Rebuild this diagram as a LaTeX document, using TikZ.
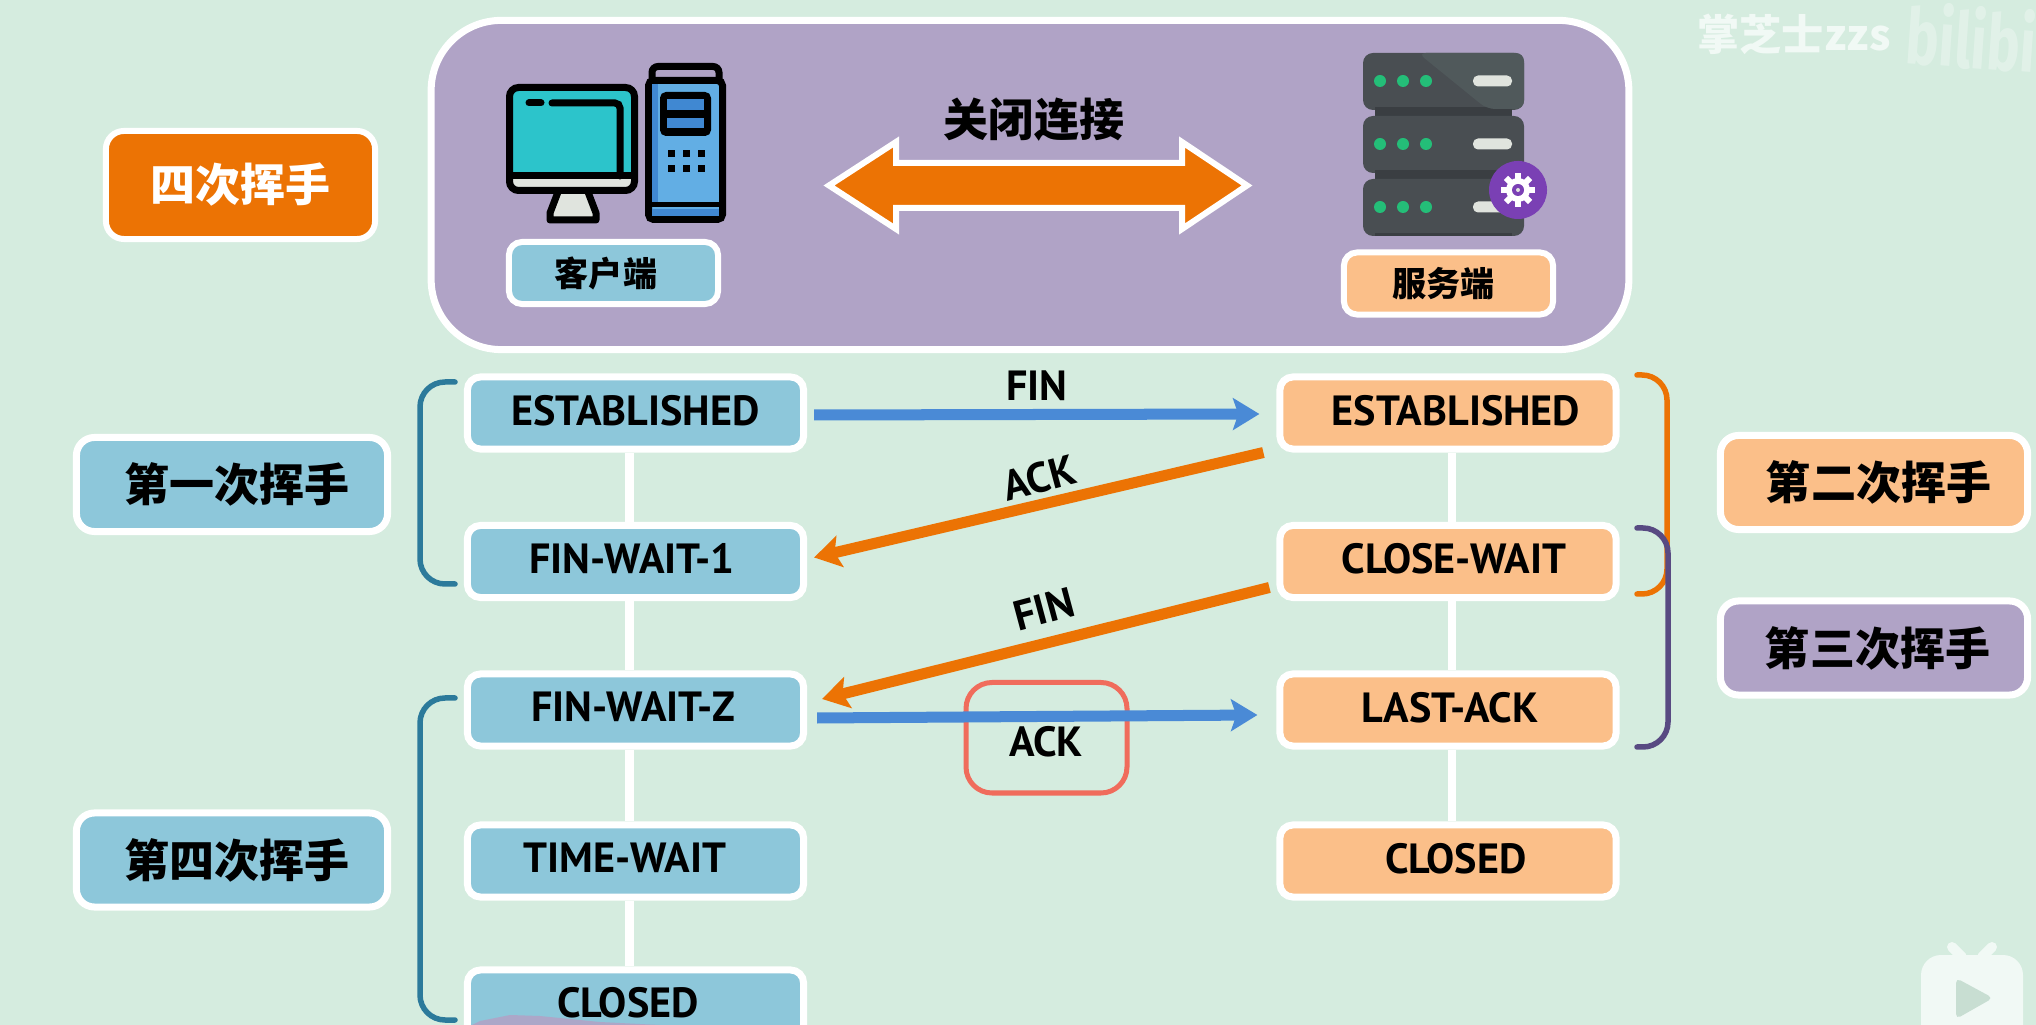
\documentclass[tikz,border=0pt]{standalone}
\usepackage{fontspec}
\setmainfont{PT Sans}
\newfontfamily\cjk{Noto Sans CJK SC}
\newfontfamily\markfont{Fira Sans}
\usetikzlibrary{arrows.meta}

\definecolor{paper}{RGB}{213,236,223}
\definecolor{clientblue}{RGB}{141,199,218}
\definecolor{serverorange}{RGB}{251,191,137}
\definecolor{lilac}{RGB}{176,163,198}
\definecolor{burnt}{RGB}{236,115,4}
\definecolor{arrowblue}{RGB}{74,138,214}
\definecolor{tealbar}{RGB}{44,122,155}
\definecolor{plum}{RGB}{88,74,130}
\definecolor{alarm}{RGB}{240,108,92}
\definecolor{rack}{RGB}{73,78,82}
\definecolor{rackhi}{RGB}{80,89,91}
\definecolor{rackdark}{RGB}{58,62,66}
\definecolor{led}{RGB}{36,190,120}
\definecolor{pill}{RGB}{224,228,222}
\definecolor{cog}{RGB}{122,64,180}
\definecolor{screen}{RGB}{44,196,203}
\definecolor{casing}{RGB}{98,174,228}
\definecolor{casingdark}{RGB}{64,136,210}
\definecolor{ghost}{RGB}{241,249,245}

\tikzset{
	box/.style={draw=white, rounded corners=0.13cm, inner sep=0pt, font=\bfseries},
	state/.style={box, line width=0.07cm, minimum width=3.36cm, minimum height=0.72cm, text depth=0.06cm, font=\fontsize{12}{13}\bfseries},
	wave/.style={box, line width=0.07cm, rounded corners=0.18cm, minimum height=0.94cm, font=\cjk\fontsize{12.8}{14}\bfseries},
	side/.style={box, line width=0.06cm, minimum width=2.09cm, minimum height=0.62cm, font=\cjk\fontsize{9.7}{11}\bfseries},
	flow/.style={line width=0.11cm, -{Stealth[length=7.5pt, width=9pt, inset=1.5pt]}},
	link/.style={white, line width=0.09cm},
	bracket/.style={line width=0.055cm, rounded corners=0.25cm, line cap=round},
	msg/.style={inner sep=0pt, font=\fontsize{12}{13}\bfseries}
}

\begin{document}
\begin{tikzpicture}[x=0.01cm, y=-0.01cm]
	\path [use as bounding box] (0,0) rectangle (2036,1025);
	\clip (0,0) rectangle (2036,1025);
	\fill [paper] (0,0) rectangle (2036,1025);
	
	\node [inner sep=0pt, text=ghost, font=\cjk\fontsize{12}{13}\bfseries] (author) at (1794,34) {掌芝士zzs};
	\node [inner sep=0pt, anchor=west, rotate=-4, xscale=0.72, text=ghost, opacity=0.45, font=\markfont\fontsize{22}{23}\bfseries] (site) at (1906,33) {bilibi};
	
	\node [box, fill=lilac, line width=0.07cm, rounded corners=0.7cm, minimum width=11.97cm, minimum height=3.29cm] (conn) at (1030,185) {};
	\node [wave, fill=burnt, text=white, line width=0.06cm, minimum width=2.69cm, minimum height=1.08cm] (title) at (240.5,185) {四次挥手};
	\node [inner sep=0pt, font=\cjk\fontsize{12.8}{14}\bfseries] (close) at (1034,120) {关闭连接};
	\node [side, fill=clientblue] (client) at (613.5,273) {\kern-0.15cm 客户端};
	\node [side, fill=serverorange] (server) at (1448.5,283.5) {\kern-0.1cm 服务端};
	
	\draw [white, fill=burnt, line width=0.06cm, miter limit=10] (829,185.5) -- (896,142) -- (896,163) -- (1182,163) -- (1182,142) -- (1247,185.5) -- (1182,229) -- (1182,208) -- (896,208) -- (896,229) -- cycle;
	
	\draw [line width=0.07cm, rounded corners=0.06cm] (652,80) -- (652,66.5) -- (719,66.5) -- (719,80);
	\draw [line width=0.07cm, fill=casing, rounded corners=0.05cm] (648.5,80.5) rectangle (722.5,219.5);
	\fill [casingdark] (652,84) rectangle (658,202);
	\fill [casingdark] (652,209) rectangle (719,216);
	\draw [line width=0.05cm] (648.5,205) -- (722.5,205);
	\draw [line width=0.07cm, fill=black, rounded corners=0.03cm] (663.5,95.5) rectangle (707.5,132.5);
	\fill [casingdark] (667,99) rectangle (704,110);
	\fill [casingdark] (667,118) rectangle (704,128);
	\foreach \i in {671,686,701}
	\foreach \j in {154,169}
	\fill (\i-3.5,\j-3.5) rectangle (\i+3.5,\j+3.5);
	
	\draw [line width=0.07cm, fill=pill, line join=round] (558,192) -- (550,213) -- (550,220) -- (596,220) -- (596,213) -- (588,192);
	\fill [screen, rounded corners=0.09cm] (509.5,87.5) rectangle (634.5,190.5);
	\fill [pill] (512,176) rectangle (632,188);
	\draw [line width=0.07cm] (509.5,176) -- (634.5,176);
	\draw [line width=0.07cm, rounded corners=0.09cm] (509.5,87.5) rectangle (634.5,190.5);
	\draw [line width=0.07cm, line cap=round] (529,103) -- (541,103);
	\draw [line width=0.07cm, line cap=round, rounded corners=0.05cm] (552,103) -- (620,103) -- (620,176);
	
	\fill [rackdark] (1375,105) rectangle (1512,185);
	\foreach \y in {53,116,179} {
		\fill [rack, rounded corners=0.1cm] (1363,\y) rectangle (1524,\y+57);
		\fill [rackdark] (1375,\y+54) rectangle (1512,\y+57);
	}
	\fill [rackhi, rounded corners=0.08cm] (1418,53) -- (1524,53) -- (1524,109) -- (1487,109) -- cycle;
	\foreach \y in {81,144,207} {
		\foreach \x in {1380,1403,1426}
		\fill [led] (\x,\y) circle (0.06cm);
		\fill [pill, rounded corners=0.05cm] (1473,\y-5.5) rectangle (1512,\y+5.5);
	}
	\fill [cog] (1518,190) circle (0.29cm);
	\foreach \a in {0,45,...,315}
	\draw [white, line width=0.06cm] (1518,190) -- ++(\a:17);
	\fill [white] (1518,190) circle (0.12cm);
	\fill [cog] (1518,190) circle (0.06cm);
	\fill [pill] (1518,190) circle (0.02cm);
	
	\foreach \m/\l/\y/\d in {1/ESTABLISHED/413/0, 2/FIN-WAIT-1/561.5/-0.07, 3/FIN-WAIT-Z/710/-0.05, 4/TIME-WAIT/861/-0.21}
	\node [state, fill=clientblue] (client-\m) at (635.5,\y) {\kern\d cm\l};
	\node [state, fill=clientblue] (client-5) at (635.5,1006) {};
	
	\foreach \m/\l/\y/\d in {1/ESTABLISHED/413/0.16, 2/CLOSE-WAIT/561.5/0.12, 3/LAST-ACK/710/0.04, 4/CLOSED/861/0.16}
	\node [state, fill=serverorange] (server-\m) at (1448,\y) {\kern\d cm\l};
	
	\fill [lilac!90!clientblue] (472,1025) -- (480,1021) -- (510,1015) -- (540,1016) -- (570,1019) -- (600,1022) -- (660,1025) -- cycle;
	\node [msg] (closed) at (628,1003) {CLOSED};
	
	\foreach \i [count=\j from 2] in {1,...,4}
	\draw [link] ([shift={(-6.5,0)}]client-\i.south) -- ([shift={(-6.5,0)}]client-\j.north);
	
	\foreach \i [count=\j from 2] in {1,...,3}
	\draw [link, line width=0.08cm] ([shift={(4,0)}]server-\i.south) -- ([shift={(4,0)}]server-\j.north);
	
	\node [wave, fill=clientblue, minimum width=3.11cm] (first) at (232,484.5) {\kern0.1cm 第一次挥手};
	\node [wave, fill=clientblue, minimum width=3.11cm] (fourth) at (232,860) {\kern0.1cm 第四次挥手};
	\node [wave, fill=serverorange, minimum width=3.07cm] (second) at (1874,482.5) {\kern0.09cm 第二次挥手};
	\node [wave, fill=lilac, minimum width=3.07cm] (third) at (1874,648) {\kern0.07cm 第三次挥手};
	
	\draw [bracket, tealbar] (455,382) -- (420,382) -- (420,584) -- (455,584);
	\draw [bracket, tealbar] (455,698) -- (420,698) -- (420,1020) -- (455,1020);
	\draw [bracket, burnt] (1637,375) -- (1667,375) -- (1667,594) -- (1637,594);
	\draw [bracket, plum] (1637,528) -- (1668,528) -- (1668,747) -- (1637,747);
	
	\draw [alarm, line width=0.05cm, rounded corners=0.26cm] (966,682.5) rectangle (1127,793);
	
	\draw [flow, arrowblue] ([shift={(7,2)}]client-1.east) -- ([shift={(-17,1)}]server-1.west);
	\draw [flow, burnt] ([shift={(-13,0)}]server-1.south west) -- ([shift={(7,-4)}]client-2.east);
	\draw [flow, burnt] ([shift={(-7,26)}]server-2.west) -- ([shift={(15,-11)}]client-3.east);
	\draw [flow, arrowblue] ([shift={(10,8)}]client-3.east) -- ([shift={(-19,5)}]server-3.west);
	
	\node [msg] (fin-1) at (1037,386) {FIN};
	\node [msg, rotate=15] (ack-1) at (1039,478) {ACK};
	\node [msg, rotate=15] (fin-2) at (1044,609) {FIN};
	\node [msg] (ack-2) at (1046,742) {ACK};
	
	\draw [ghost, line width=0.1cm, line cap=round] (1952,947) -- (1962,957);
	\draw [ghost, line width=0.1cm, line cap=round] (1992,947) -- (1982,957);
	\fill [ghost, rounded corners=0.2cm] (1921,955) rectangle (2023,1045);
	\fill [paper!94!black, rounded corners=0.05cm] (1956,978) -- (1993,998) -- (1956,1019) -- cycle;
\end{tikzpicture}
\end{document}
